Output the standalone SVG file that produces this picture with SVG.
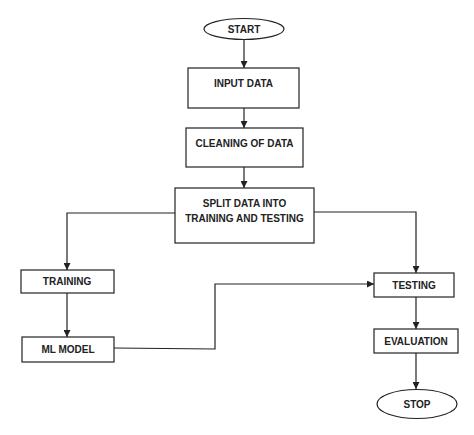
<svg xmlns="http://www.w3.org/2000/svg" width="474" height="435" viewBox="0 0 474 435">
<style>
.n{fill:#fff;stroke:#222;stroke-width:1.2}
.t{font-family:"Liberation Sans",Arial,sans-serif;font-weight:bold;font-size:10px;fill:#222;text-anchor:middle}
.c{fill:none;stroke:#222;stroke-width:1.2}
</style>
<defs>
<marker id="a" viewBox="0 0 10 10" refX="10" refY="5" markerWidth="7" markerHeight="7" markerUnits="userSpaceOnUse" orient="auto">
<path d="M0,0 L10,5 L0,10 Z" fill="#222"/>
</marker>
</defs>
<rect width="474" height="435" fill="#fff"/>
<g id="connectors">
<path class="c" d="M244,39 V68" marker-end="url(#a)"/>
<path class="c" d="M244,108 V128" marker-end="url(#a)"/>
<path class="c" d="M244,167 V188" marker-end="url(#a)"/>
<path class="c" d="M175,213 H67 V270" marker-end="url(#a)"/>
<path class="c" d="M314,212 H416 V273" marker-end="url(#a)"/>
<path class="c" d="M67,293 V337" marker-end="url(#a)"/>
<path class="c" d="M114,348 L215,349 V284 H374" marker-end="url(#a)"/>
<path class="c" d="M416,297 V329" marker-end="url(#a)"/>
<path class="c" d="M416,353 V389" marker-end="url(#a)"/>
</g>
<g id="start">
<ellipse class="n" cx="244" cy="29" rx="40" ry="10.5"/>
<text class="t" x="244" y="32.5">START</text>
</g>
<g id="input">
<rect class="n" x="188" y="68" width="111" height="40"/>
<text class="t" x="243.5" y="86.5">INPUT DATA</text>
</g>
<g id="cleaning">
<rect class="n" x="186" y="128" width="117" height="39"/>
<text class="t" x="244.5" y="146.5">CLEANING OF DATA</text>
</g>
<g id="split">
<rect class="n" x="175" y="188" width="139" height="55"/>
<text class="t" x="244.5" y="206.5">SPLIT DATA INTO</text>
<text class="t" x="244.5" y="221.5">TRAINING AND TESTING</text>
</g>
<g id="training">
<rect class="n" x="21" y="270" width="93" height="23"/>
<text class="t" x="67" y="285">TRAINING</text>
</g>
<g id="mlmodel">
<rect class="n" x="22" y="337" width="92" height="25"/>
<text class="t" x="68" y="352.5">ML MODEL</text>
</g>
<g id="testing">
<rect class="n" x="374" y="273" width="80" height="24"/>
<text class="t" x="414" y="288.5">TESTING</text>
</g>
<g id="evaluation">
<rect class="n" x="374" y="329" width="84" height="24"/>
<text class="t" x="416" y="344.5">EVALUATION</text>
</g>
<g id="stop">
<ellipse class="n" cx="417" cy="404" rx="40" ry="14.5"/>
<text class="t" x="417" y="407.5">STOP</text>
</g>
</svg>
